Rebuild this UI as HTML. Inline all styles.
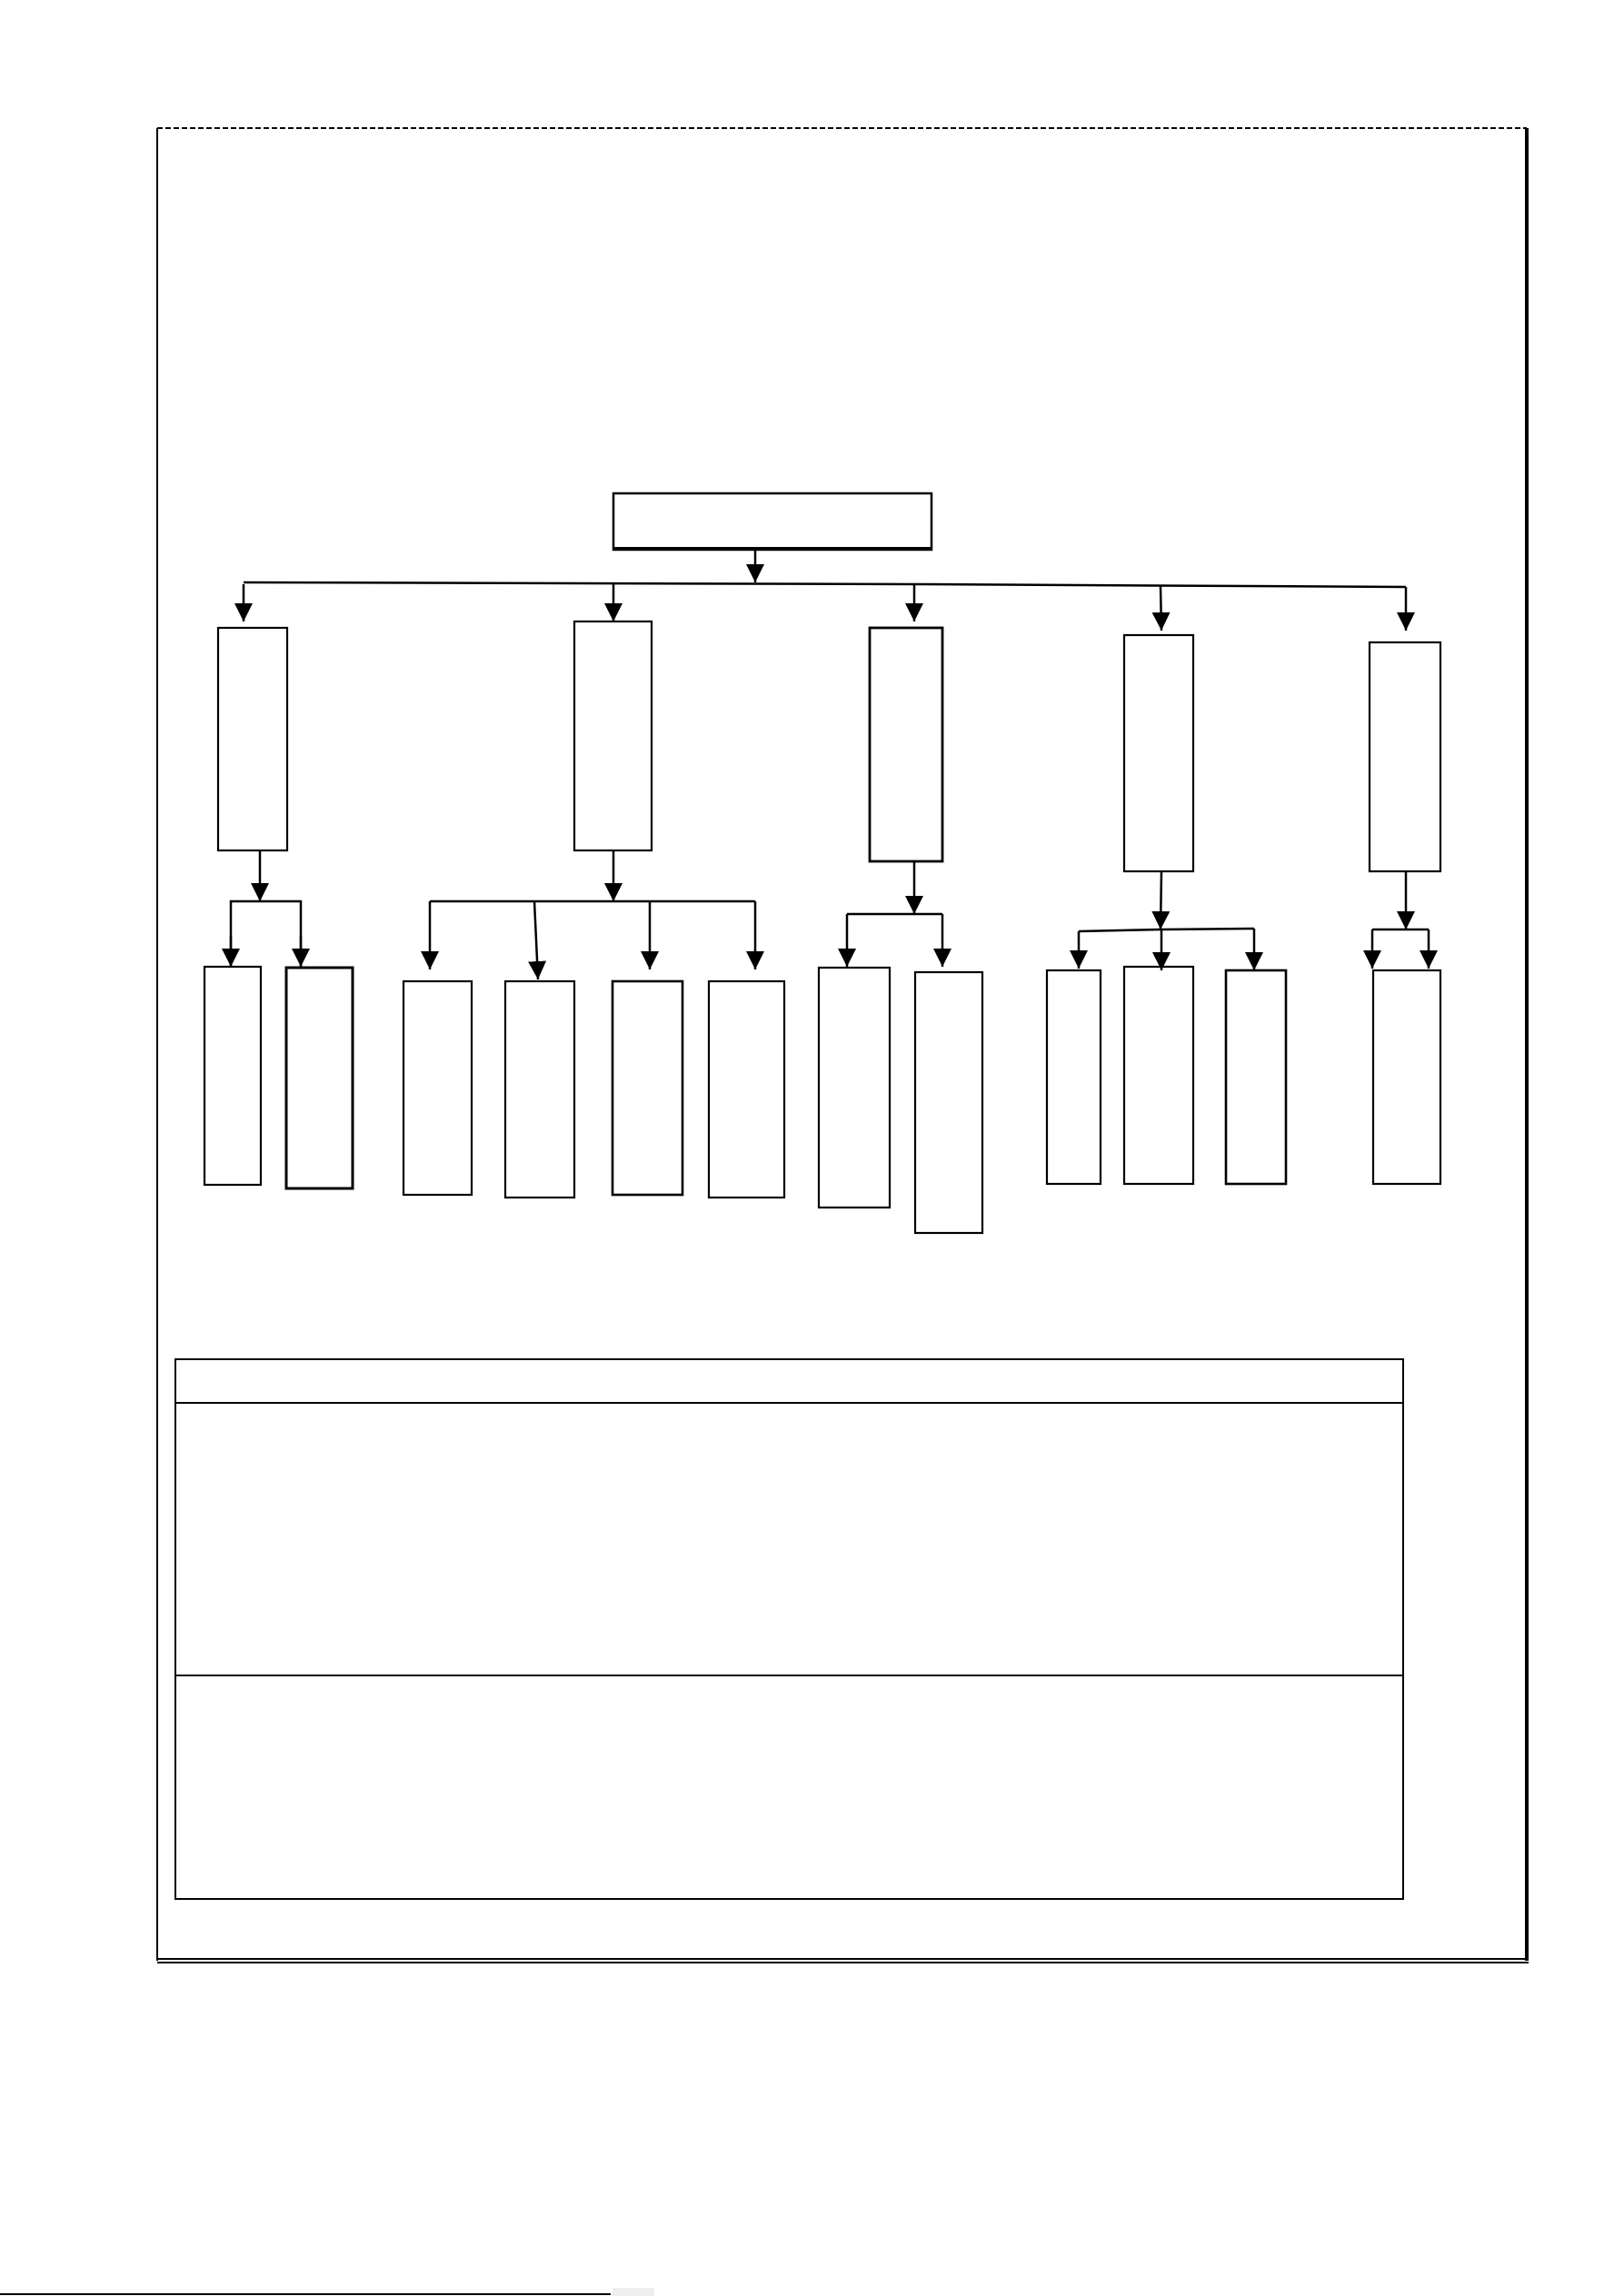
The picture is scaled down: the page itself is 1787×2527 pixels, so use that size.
<!DOCTYPE html>
<html><head><meta charset="utf-8"><style>
html,body{margin:0;padding:0;background:#fff;}
svg{display:block;}
</style></head><body>
<svg width="1787" height="2527" viewBox="0 0 1787 2527" xmlns="http://www.w3.org/2000/svg">
<defs>
<marker id="b" viewBox="0 0 10 10" refX="10" refY="5" markerWidth="20" markerHeight="22" markerUnits="userSpaceOnUse" orient="auto">
<path d="M0,0 L10,5 L0,10 z" fill="#000"/>
</marker>
</defs>
<line x1="173" y1="141" x2="1680" y2="141" stroke="#000" stroke-width="2" stroke-dasharray="6,3"/>
<line x1="173" y1="141" x2="173" y2="2158" stroke="#000" stroke-width="2"/>
<line x1="1680" y1="141" x2="1680" y2="2158" stroke="#000" stroke-width="4"/>
<line x1="173" y1="2156" x2="1682" y2="2156" stroke="#000" stroke-width="2"/>
<line x1="173" y1="2160" x2="1682" y2="2160" stroke="#000" stroke-width="2"/>
<line x1="0" y1="2525" x2="672" y2="2525" stroke="#000" stroke-width="2"/>
<rect x="674" y="2518" width="46" height="9" fill="#eee"/>

<g fill="#fff" stroke="#000" stroke-width="2.2">
<rect x="675" y="543" width="350" height="62" stroke-width="2.5"/>
<line x1="675" y1="604" x2="1025" y2="604" stroke-width="4"/>
<rect x="240" y="691" width="76" height="245"/>
<rect x="632" y="684" width="85" height="252"/>
<rect x="957" y="691" width="80" height="257" stroke-width="2.8"/>
<rect x="1237" y="699" width="76" height="260"/>
<rect x="1507" y="707" width="78" height="252"/>
<rect x="225" y="1064" width="62" height="240"/>
<rect x="315" y="1065" width="73" height="243" stroke-width="3"/>
<rect x="444" y="1080" width="75" height="235"/>
<rect x="556" y="1080" width="76" height="238"/>
<rect x="674" y="1080" width="77" height="235" stroke-width="2.6"/>
<rect x="780" y="1080" width="83" height="238"/>
<rect x="901" y="1065" width="78" height="264"/>
<rect x="1007" y="1070" width="74" height="287"/>
<rect x="1152" y="1068" width="59" height="235"/>
<rect x="1237" y="1064" width="76" height="239"/>
<rect x="1349" y="1068" width="66" height="235" stroke-width="2.6"/>
<rect x="1511" y="1068" width="74" height="235"/>
</g>

<g stroke="#000" stroke-width="2.5" fill="none">
<line x1="831" y1="605" x2="831" y2="641" marker-end="url(#b)"/>
<polyline points="268,641 1006,643 1547,646"/>
<line x1="268" y1="643" x2="268" y2="684" marker-end="url(#b)"/>
<line x1="675" y1="643" x2="675" y2="684" marker-end="url(#b)"/>
<line x1="1006" y1="644" x2="1006" y2="684" marker-end="url(#b)"/>
<line x1="1277" y1="645" x2="1278" y2="694" marker-end="url(#b)"/>
<line x1="1547" y1="646" x2="1547" y2="694" marker-end="url(#b)"/>

<line x1="286" y1="936" x2="286" y2="992" marker-end="url(#b)"/>
<polyline points="254,1063 254,992 331,992 331,1063"/>
<line x1="254" y1="1030" x2="254" y2="1064" marker-end="url(#b)"/>
<line x1="331" y1="1030" x2="331" y2="1064" marker-end="url(#b)"/>
<line x1="675" y1="936" x2="675" y2="992" marker-end="url(#b)"/>
<line x1="473" y1="992" x2="831" y2="992"/>
<line x1="473" y1="992" x2="473" y2="1067" marker-end="url(#b)"/>
<line x1="588" y1="992" x2="592" y2="1078" marker-end="url(#b)"/>
<line x1="715" y1="992" x2="715" y2="1067" marker-end="url(#b)"/>
<line x1="831" y1="992" x2="831" y2="1067" marker-end="url(#b)"/>
<line x1="1006" y1="948" x2="1006" y2="1006" marker-end="url(#b)"/>
<line x1="932" y1="1006" x2="1037" y2="1006"/>
<line x1="932" y1="1006" x2="932" y2="1064" marker-end="url(#b)"/>
<line x1="1037" y1="1006" x2="1037" y2="1064" marker-end="url(#b)"/>
<line x1="1278" y1="959" x2="1277" y2="1023" marker-end="url(#b)"/>
<polyline points="1187,1025 1278,1023 1380,1022"/>
<line x1="1187" y1="1025" x2="1187" y2="1066" marker-end="url(#b)"/>
<line x1="1278" y1="1023" x2="1278" y2="1068" marker-end="url(#b)"/>
<line x1="1380" y1="1022" x2="1380" y2="1068" marker-end="url(#b)"/>
<line x1="1547" y1="959" x2="1547" y2="1023" marker-end="url(#b)"/>
<line x1="1510" y1="1023" x2="1572" y2="1023"/>
<line x1="1510" y1="1023" x2="1510" y2="1066" marker-end="url(#b)"/>
<line x1="1572" y1="1023" x2="1572" y2="1066" marker-end="url(#b)"/>
</g>

<g fill="none" stroke="#000" stroke-width="2">
<rect x="193" y="1496" width="1351" height="594"/>
<line x1="193" y1="1544" x2="1544" y2="1544"/>
<line x1="193" y1="1844" x2="1544" y2="1844"/>
</g>
</svg>
</body></html>
